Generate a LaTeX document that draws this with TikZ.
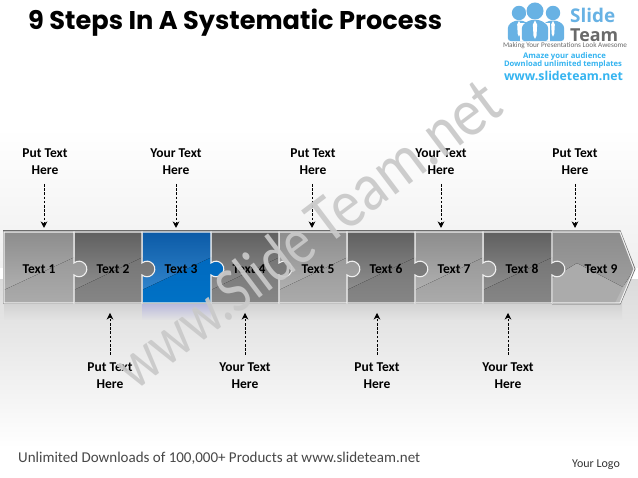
\documentclass[tikz,border=0pt]{standalone}
\usepackage{fontspec}
\setmainfont{Carlito}
\newfontfamily\titlefont{Poppins}
\newfontfamily\logofont{Open Sans}
\usetikzlibrary{arrows.meta}
\definecolor{lA}{HTML}{8C8C8C}\definecolor{lB}{HTML}{B8B8B8}\definecolor{lC}{HTML}{979797}\definecolor{lD}{HTML}{ABABAB}
\definecolor{dA}{HTML}{5F5F5F}\definecolor{dB}{HTML}{9A9A9A}\definecolor{dC}{HTML}{747474}\definecolor{dD}{HTML}{868686}
\definecolor{bA}{HTML}{0B5AA6}\definecolor{bB}{HTML}{3A8ED4}\definecolor{bC}{HTML}{0068BE}\definecolor{bD}{HTML}{0072C6}
\definecolor{logoblue}{HTML}{68B2E4}\definecolor{logocyan}{HTML}{35B4F0}\definecolor{logogray}{HTML}{6A6A6A}
\tikzset{
 x=1pt,y=1pt,
 lab/.style={font=\bfseries\fontsize{13.5}{17}\selectfont,align=center,inner sep=0pt,text=black},
 steptext/.style={font=\bfseries\fontsize{13.5}{16}\selectfont,inner sep=0pt,text=black},
 conn/.style={draw=black,line width=0.9pt,dash pattern=on 2.6pt off 1.6pt,-{Stealth[length=6.5pt,width=6.5pt,inset=2pt]}},
 edge/.style={draw=white!94!black,line width=1.1pt},
 logotext/.style={inner sep=0pt,font=\logofont\bfseries},
 wmark/.style={inner sep=0pt,rotate=37,anchor=base west,text=black!21,opacity=0.93},
}
\newcommand{\puzzle}[6]{%
 \begin{scope}
 \clip (#1,246) -- (#2,246) -- (#2,215) arc[start angle=130,end angle=-130,radius=7.8] -- (#2,175) -- (#1,175) -- cycle;
 \fill[top color=#3,bottom color=#4] (#1-1,247) rectangle (#2+14,174);
 \fill[top color=#5,bottom color=#6] (#1-1,187.5) -- (#2+14,227) -- (#2+14,174) -- (#1-1,174) -- cycle;
 \end{scope}
 \draw[edge] (#1,246) -- (#2,246) -- (#2,215) arc[start angle=130,end angle=-130,radius=7.8] -- (#2,175) -- (#1,175) -- cycle;
}
\newcommand{\person}[4]{%
 \fill[logoblue] (#1,#2) circle[radius=#3];
 \fill[logoblue,rounded corners=3pt] (#1-#3*1.55,#2-#3*#4) -- (#1-#3*1.55,#2-#3*1.7) -- (#1-#3*0.6,#2-#3*1.05) -- (#1+#3*0.6,#2-#3*1.05) -- (#1+#3*1.55,#2-#3*1.7) -- (#1+#3*1.55,#2-#3*#4) -- cycle;
 \fill[white] (#1,#2-#3*1.1) -- (#1+#3*0.25,#2-#3*1.6) -- (#1+#3*0.18,#2-#3*2.9) -- (#1,#2-#3*3.3) -- (#1-#3*0.18,#2-#3*2.9) -- (#1-#3*0.25,#2-#3*1.6) -- cycle;
}
\begin{document}
\begin{tikzpicture}
\useasboundingbox (0,0) rectangle (638,478);
% background
\fill[white] (0,0) rectangle (638,478);
\fill[top color=white,bottom color=black!6] (0,350) rectangle (638,210);
\fill[top color=black!14,bottom color=white] (0,198) rectangle (638,30);
% reflections
\fill[top color=black!18,bottom color=black!11] (4,175) rectangle (622,158);
\fill[top color=blue!50!black!28,bottom color=black!11] (142,175) rectangle (211,158);
% frame
\fill[black!58] (2.5,173.5) rectangle (552,247.5);
\fill[black!58] (552,247.5) -- (620.5,247.5) -- (635.5,209) -- (620.5,173.5) -- (552,173.5) -- cycle;
% last piece
\begin{scope}
 \clip (552,246) -- (620,246) -- (634,209) -- (620,175) -- (552,175) -- cycle;
 \fill[lD] (552,246) rectangle (636,175);
 \fill[top color=lA,bottom color=black!38] (552,246) -- (620,246) -- (634,209) -- (623,191) -- (577,215) -- (552,200) -- cycle;
 \fill[black!28] (623,191) -- (636,209) -- (636,175) -- (615,175) -- cycle;
\end{scope}
\draw[edge] (552,246) -- (620,246) -- (634,209) -- (620,175) -- (552,175);
% pieces, right to left so that each tab lies on its neighbour
\puzzle{483}{552}{dA}{dB}{dC}{dD}
\puzzle{415}{483}{lA}{lB}{lC}{lD}
\puzzle{347}{415}{dA}{dB}{dC}{dD}
\puzzle{279}{347}{lA}{lB}{lC}{lD}
\puzzle{211}{279}{dA}{dB}{dC}{dD}
\puzzle{142}{211}{bA}{bB}{bC}{bD}
\puzzle{74}{142}{dA}{dB}{dC}{dD}
\puzzle{4}{74}{lA}{lB}{lC}{lD}
% step texts
\node[steptext] (s1) at (39,209) {Text 1};
\node[steptext] (s2) at (113,209) {Text 2};
\node[steptext] (s3) at (181,209) {Text 3};
\node[steptext] (s4) at (249,209) {Text 4};
\node[steptext] (s5) at (318,209) {Text 5};
\node[steptext] (s6) at (386,209) {Text 6};
\node[steptext] (s7) at (454,209) {Text 7};
\node[steptext] (s8) at (522,209) {Text 8};
\node[steptext] (s9) at (601,209) {Text 9};
% labels above
\node[lab] (a1) at (45,316.5) {Put Text\\Here};
\node[lab] (a2) at (176,316.5) {Your Text\\Here};
\node[lab] (a3) at (313,316.5) {Put Text\\Here};
\node[lab] (a4) at (441,316.5) {Your Text\\Here};
\node[lab] (a5) at (575,316.5) {Put Text\\Here};
% labels below
\node[lab] (b1) at (110,102.5) {Put Text\\Here};
\node[lab] (b2) at (245,102.5) {Your Text\\Here};
\node[lab] (b3) at (377,102.5) {Put Text\\Here};
\node[lab] (b4) at (508,102.5) {Your Text\\Here};
% connector ends
\foreach \n/\xx in {1/44,2/176,3/312,4/441,5/575}{
 \coordinate (af\n) at (\xx,294);
 \coordinate (at\n) at (\xx,250);
 \draw[conn] (af\n) -- (at\n);
}
\foreach \n/\xx in {1/110,2/245,3/377,4/508}{
 \coordinate (bf\n) at (\xx,123);
 \coordinate (bt\n) at (\xx,165);
 \draw[conn] (bf\n) -- (bt\n);
}
% title and footer
\node[inner sep=0pt,anchor=west] (title) at (28,455.5) {\resizebox{414pt}{!}{\titlefont\bfseries 9 Steps In A Systematic Process}};
\node[inner sep=0pt,anchor=west,text=black!72] (foot) at (18,20) {\resizebox{402pt}{!}{Unlimited Downloads of 100,000+ Products at www.slideteam.net}};
\node[inner sep=0pt,anchor=center,text=black!80,font=\fontsize{12}{14}\selectfont] (logo) at (596,13) {Your Logo};
% logo
\person{519}{465}{7.2}{3.9}
\person{553}{465}{7.2}{3.9}
\fill[white] (535,467) circle[radius=9.3];
\fill[white] (520,437) rectangle (550,455);
\person{535}{467}{8.5}{3.55}
\node[logotext,anchor=west,text=logoblue] (l1) at (570,463) {\resizebox{45pt}{!}{Slide}};
\node[logotext,anchor=west,text=logogray] (l2) at (570,443) {\resizebox{48pt}{!}{Team}};
\node[inner sep=0pt,text=logogray] (l3) at (565,432) {\resizebox{124pt}{!}{Making Your Presentations Look Awesome}};
\node[logotext,text=logocyan] (l4) at (564.5,422) {\resizebox{83pt}{!}{Amaze your audience}};
\node[logotext,text=logocyan] (l5) at (563,413) {\resizebox{118pt}{!}{Download unlimited templates}};
\node[logotext,text=logocyan] (l6) at (563.5,402) {\resizebox{119pt}{!}{www.slideteam.net}};
% watermark
\node[wmark] (wm1) at (135,86) {\resizebox{232pt}{46pt}{www.Slide}};
\node[wmark] (wm2) at (327,231) {\resizebox{225pt}{44pt}{Team.net}};
\end{tikzpicture}
\end{document}
